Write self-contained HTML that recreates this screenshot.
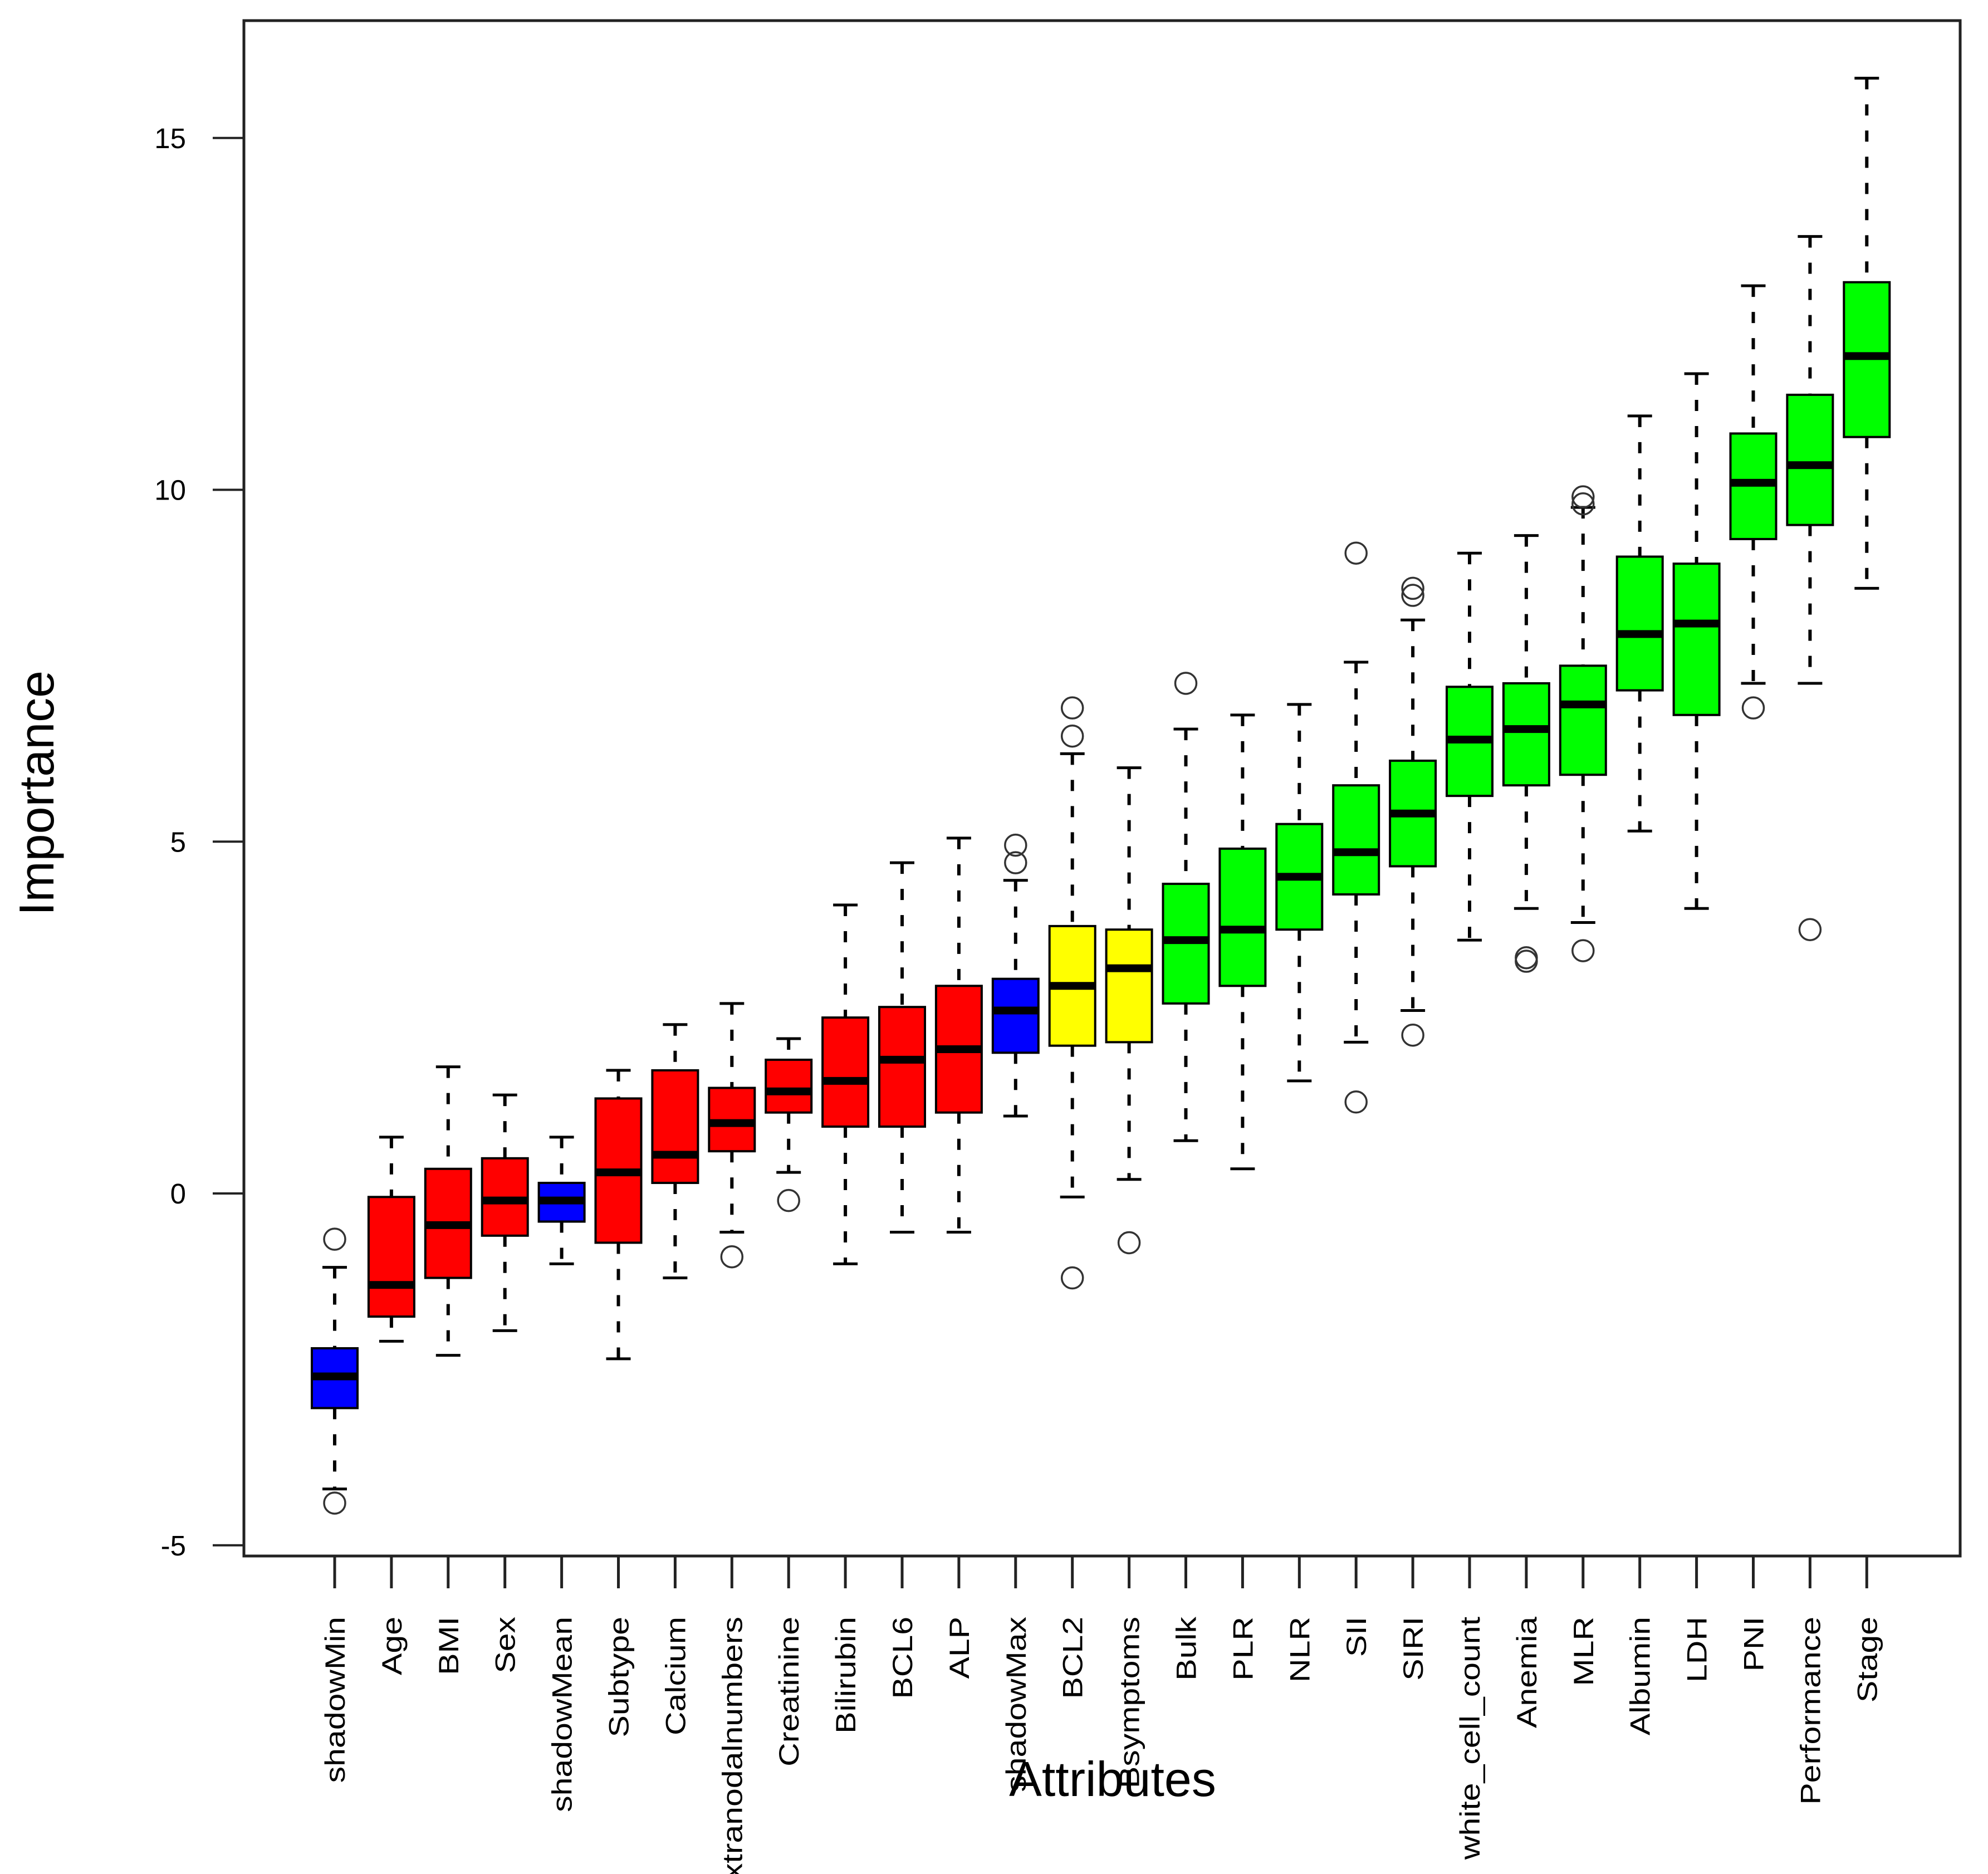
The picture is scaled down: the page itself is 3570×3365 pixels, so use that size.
<!DOCTYPE html>
<html><head><meta charset="utf-8"><style>html,body{margin:0;padding:0;background:#fff}svg{display:block}</style></head>
<body>
<svg id="chart" width="3570" height="3365" viewBox="0 0 3570 3365" xmlns="http://www.w3.org/2000/svg" font-family="Liberation Sans, sans-serif"></svg>
<script>
const categories=["shadowMin","Age","BMI","Sex","shadowMean","Subtype","Calcium","Extranodalnumbers","Creatinine","Bilirubin","BCL6","ALP","shadowMax","BCL2","Bsymptoms","Bulk","PLR","NLR","SII","SIRI","white_cell_count","Anemia","MLR","Albumin","LDH","PNI","Performance","Stage"];
const whiskerLow=[-4.2,-2.1,-2.3,-1.95,-1.0,-2.35,-1.2,-0.55,0.3,-1.0,-0.55,-0.55,1.1,-0.05,0.2,0.75,0.35,1.6,2.15,2.6,3.6,4.05,3.85,5.15,4.05,7.25,7.25,8.6];
const q1=[-3.05,-1.75,-1.2,-0.6,-0.4,-0.7,0.15,0.6,1.15,0.95,0.95,1.15,2.0,2.1,2.15,2.7,2.95,3.75,4.25,4.65,5.65,5.8,5.95,7.15,6.8,9.3,9.5,10.75];
const medians=[-2.6,-1.3,-0.45,-0.1,-0.1,0.3,0.55,1.0,1.45,1.6,1.9,2.05,2.6,2.95,3.2,3.6,3.75,4.5,4.85,5.4,6.45,6.6,6.95,7.95,8.1,10.1,10.35,11.9];
const q3=[-2.2,-0.05,0.35,0.5,0.15,1.35,1.75,1.5,1.9,2.5,2.65,2.95,3.05,3.8,3.75,4.4,4.9,5.25,5.8,6.15,7.2,7.25,7.5,9.05,8.95,10.8,11.35,12.95];
const whiskerHigh=[-1.05,0.8,1.8,1.4,0.8,1.75,2.4,2.7,2.2,4.1,4.7,5.05,4.45,6.25,6.05,6.6,6.8,6.95,7.55,8.15,9.1,9.35,9.75,11.05,11.65,12.9,13.6,15.85];
const outliers=[[-0.65,-4.4],[],[],[],[],[],[],[-0.9],[-0.1],[],[],[],[4.7,4.95],[6.5,6.9,-1.2],[-0.7],[7.25],[],[],[9.1,1.3],[8.5,8.6,2.25],[],[3.3,3.35],[9.8,9.9,3.45],[],[],[6.9],[3.75],[]];
const groups=["shadow","rej","rej","rej","shadow","rej","rej","rej","rej","rej","rej","rej","shadow","tent","tent","conf","conf","conf","conf","conf","conf","conf","conf","conf","conf","conf","conf","conf"];
const yTicks=[-5,0,5,10,15];
const colors={shadow:"#0000ff",rej:"#ff0000",tent:"#ffff00",conf:"#00ff00"};
const svg=document.getElementById('chart');const NS="http://www.w3.org/2000/svg";
const L=438,T=37,R=3520,B=2794;
const y=v=>2143-126.35*v;
const x=i=>601+101.9*i;
function mk(tag,attrs,parent){const e=document.createElementNS(NS,tag);for(const k in attrs)e.setAttribute(k,attrs[k]);(parent||svg).appendChild(e);return e;}
const frame=mk('rect',{x:L,y:T,width:R-L,height:B-T,fill:'none',stroke:'#222','stroke-width':5});


yTicks.forEach(v=>{
  const tl=mk('line',{x1:382,x2:L,y1:y(v),y2:y(v),stroke:'#222','stroke-width':4});
  
  
  const t=mk('text',{x:334,y:y(v)+18,'text-anchor':'end','font-size':51});
  t.textContent=v;
  
  
});
categories.forEach((c,i)=>{
  const cx=x(i),hw=41;
  const g=mk('g',{});
  
  
  mk('line',{x1:cx,x2:cx,y1:y(whiskerHigh[i]),y2:y(q3[i]),stroke:'#000','stroke-width':6,'stroke-dasharray':'20,27'},g);
  mk('line',{x1:cx,x2:cx,y1:y(q1[i]),y2:y(whiskerLow[i]),stroke:'#000','stroke-width':6,'stroke-dasharray':'20,27'},g);
  mk('line',{x1:cx-22,x2:cx+22,y1:y(whiskerHigh[i]),y2:y(whiskerHigh[i]),stroke:'#000','stroke-width':5},g);
  mk('line',{x1:cx-22,x2:cx+22,y1:y(whiskerLow[i]),y2:y(whiskerLow[i]),stroke:'#000','stroke-width':5},g);
  mk('rect',{x:cx-hw,y:y(q3[i]),width:2*hw,height:y(q1[i])-y(q3[i]),fill:colors[groups[i]],stroke:'#000','stroke-width':4},g);
  mk('line',{x1:cx-hw,x2:cx+hw,y1:y(medians[i]),y2:y(medians[i]),stroke:'#000','stroke-width':14},g);
  outliers[i].forEach(o=>{mk('circle',{cx:cx,cy:y(o),r:19,fill:'none',stroke:'#333','stroke-width':3.5},g);});
  const tk=mk('line',{x1:cx,x2:cx,y1:B,y2:B+58,stroke:'#222','stroke-width':5});
  
  
  const t=mk('text',{transform:`translate(${cx+18},2903) rotate(-90) scale(1.18,1)`,'text-anchor':'end','font-size':50});
  t.textContent=c;
  
  
});
const xt=mk('text',{x:1998,y:3225,'text-anchor':'middle','font-size':88});
xt.textContent='Attributes';


const yt=mk('text',{transform:'translate(96,1424) rotate(-90)','text-anchor':'middle','font-size':88});
yt.textContent='Importance';


</script>
</body></html>
